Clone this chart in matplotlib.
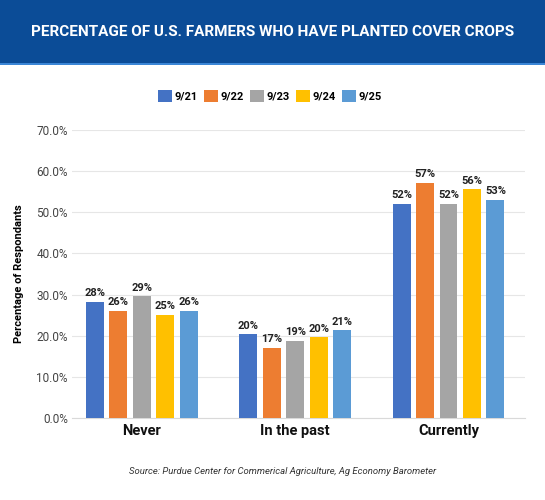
import numpy as np
import matplotlib
matplotlib.use("Agg")
import matplotlib.pyplot as plt
from matplotlib.patches import Rectangle

# data
categories = ["Never", "In the past", "Currently"]
series = ["9/21", "9/22", "9/23", "9/24", "9/25"]
colors = ["#4472C4", "#ED7D31", "#A5A5A5", "#FFC000", "#5B9BD5"]
values = [
    [28.2, 26.1, 29.6, 25.0, 26.1],   # 9/21 .. 9/25 for Never
    [20.3, 17.1, 18.8, 19.6, 21.3],   # In the past
    [52.0, 57.1, 52.0, 55.6, 53.0],   # Currently
]
labels = [
    ["28%", "26%", "29%", "25%", "26%"],
    ["20%", "17%", "19%", "20%", "21%"],
    ["52%", "57%", "52%", "56%", "53%"],
]
yticks = [0, 10, 20, 30, 40, 50, 60, 70]

FONT = ["Roboto", "DejaVu Sans"]
plt.rcParams["font.family"] = FONT

fig = plt.figure(figsize=(5.45, 5.0), dpi=100)
fig.patch.set_facecolor("white")

# title banner
fig.patches.append(Rectangle((0, 1 - 63 / 500), 1, 63 / 500, transform=fig.transFigure,
                             facecolor="#0B4C97", edgecolor="none", zorder=0))
fig.patches.append(Rectangle((0, 1 - 65 / 500), 1, 2 / 500, transform=fig.transFigure,
                             facecolor="#3B86D6", edgecolor="none", zorder=0))
fig.text(0.5, 1 - 32 / 500, "PERCENTAGE OF U.S. FARMERS WHO HAVE PLANTED COVER CROPS",
         ha="center", va="center", color="white", fontsize=11, fontweight="bold")

ax = fig.add_axes([72 / 545, (500 - 418) / 500, (525 - 72) / 545, (418 - 130) / 500])

x = np.arange(len(categories))
pitch = 0.153
width = 0.117
for i, (name, col) in enumerate(zip(series, colors)):
    vals = [values[c][i] for c in range(len(categories))]
    xs = x + (i - 2) * pitch
    ax.bar(xs, vals, width, color=col, label=name, zorder=3)
    for xx, v, c in zip(xs, vals, range(len(categories))):
        ax.text(xx, v + 0.9, labels[c][i], ha="center", va="bottom", fontsize=8,
                fontweight="bold", color="#222222")

ax.set_xlim(-0.455, 2.499)
ax.set_ylim(0, 70)
ax.set_yticks(yticks)
ax.set_yticklabels([f"{t:.1f}%" for t in yticks], fontsize=8.5, color="#444444")
ax.set_xticks(x)
ax.set_xticklabels(categories, fontsize=10.5, fontweight="bold", color="#111111")
ax.tick_params(axis="both", length=0)
ax.tick_params(axis="y", pad=3)
ax.tick_params(axis="x", pad=4)
ax.grid(axis="y", color="#E6E6E6", linewidth=0.8, zorder=0)
for s in ["top", "right", "left"]:
    ax.spines[s].set_visible(False)
ax.spines["bottom"].set_color("#D9D9D9")
ax.set_ylabel("Percentage of Respondants", fontsize=8, fontweight="bold", labelpad=9)

leg = fig.legend(loc="center", bbox_to_anchor=(270 / 545, 1 - 96 / 500), ncol=5,
                 frameon=False, handlelength=1.2, handleheight=1.2, handletextpad=0.25,
                 columnspacing=0.6, prop={"weight": "bold", "size": 8})

fig.text(283 / 545, 1 - 471 / 500,
         "Source: Purdue Center for Commerical Agriculture, Ag Economy Barometer",
         ha="center", va="center", fontsize=6.8, style="italic", color="#333333")

fig.savefig("out.png", dpi=100, facecolor="white")
